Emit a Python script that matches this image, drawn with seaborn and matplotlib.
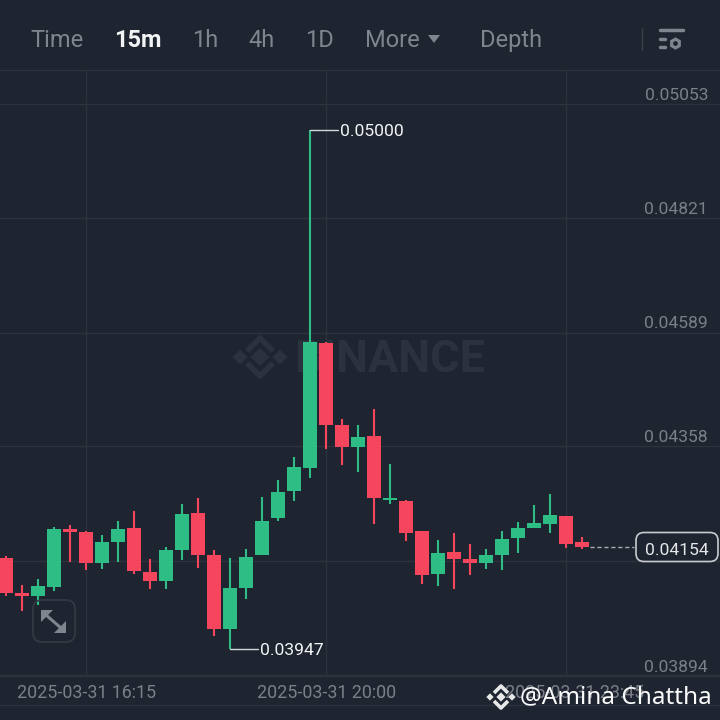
import matplotlib
matplotlib.use("Agg")
import matplotlib.pyplot as plt
from matplotlib.patches import FancyBboxPatch, Polygon
import numpy as np
import pandas as pd
import seaborn as sns

# OHLC-style values (price units)
highs = [.04135,.04077,.04089,.04194,.04198,.04186,.04178,.04206,.04227,.04129,.04154,.04241,.04254,
         .04148,.04131,.04149,.04255,.04290,.04337,.05000,.04570,.04414,.04401,.04433,.04322,.04249,
         .04186,.04169,.04182,.04160,.04149,.04186,.04204,.04239,.04262,.04217,.04174]
body_tops = [.04131,.04061,.04074,.04190,.04191,.04185,.04164,.04190,.04192,.04104,.04148,.04221,.04222,
             .04137,.04070,.04133,.04206,.04265,.04317,.04570,.04568,.04401,.04377,.04379,.04254,.04248,
             .04186,.04141,.04144,.04130,.04137,.04170,.04192,.04202,.04218,.04217,.04163]
body_bottoms = [.04060,.04054,.04054,.04073,.04184,.04121,.04122,.04164,.04106,.04085,.04085,.04147,.04137,
                .03987,.03987,.04071,.04138,.04213,.04268,.04315,.04401,.04357,.04357,.04253,.04249,.04182,
                .04097,.04099,.04129,.04122,.04122,.04138,.04172,.04192,.04200,.04159,.04154]
lows = [.04055,.04024,.04036,.04065,.04123,.04107,.04110,.04123,.04099,.04068,.04069,.04127,.04111,
        .03974,.03947,.04049,.04138,.04206,.04248,.04294,.04353,.04321,.04306,.04201,.04241,.04165,
        .04079,.04075,.04068,.04097,.04110,.04107,.04142,.04192,.04182,.04152,.04150]
directions = list("RRGGRRGGRRGGRRGGGGGGRRGRGRRGRRGGGGGRR")

price_ticks = [.05053,.04821,.04589,.04358,.04126,.03894]
price_labels = ["0.05053","0.04821","0.04589","0.04358","","0.03894"]
time_positions = [5,20,35]
time_labels = ["2025-03-31 16:15","2025-03-31 20:00","2025-03-31 23:45"]
menu_items = [("Time",30,"#7f858e",False),("15m",114,"#f2f3f4",True),("1h",192,"#7f858e",False),
              ("4h",248,"#7f858e",False),("1D",305,"#7f858e",False),("More",365,"#7f858e",False),
              ("Depth",480,"#7f858e",False)]

BG, GRID, UP, DOWN = "#1e2530", "#2d323c", "#2ebd85", "#f6465d"
palette = {"G": UP, "R": DOWN}

sns.set_theme(style="dark", rc={"axes.facecolor": BG, "figure.facecolor": BG, "axes.grid": False})
plt.rcParams["font.family"] = ["Roboto", "DejaVu Sans"]

fig = plt.figure(figsize=(7.2, 7.2), dpi=100, facecolor=BG)

# watermark layer, underneath the candles
under = fig.add_axes([0, 0, 1, 1], facecolor="none", zorder=0)
under.set_xlim(0, 720); under.set_ylim(720, 0); under.axis("off")
wm = "#2c323d"
under.scatter([260, 240, 280], [357, 357, 357], s=[90, 60, 60], marker="D", color=wm, lw=0)
under.plot([247, 260, 273], [351, 338, 351], color=wm, lw=4, solid_capstyle="butt")
under.plot([247, 260, 273], [363, 376, 363], color=wm, lw=4, solid_capstyle="butt")
under.text(294, 360.5, "BINANCE", color=wm, fontsize=32.5, fontweight="bold", va="center", fontfamily="Roboto")

ax = fig.add_axes([0, (720-676)/720, 1, (676-70)/720], zorder=1)
ax.patch.set_visible(False)

idx = np.arange(len(highs))
bodies = pd.DataFrame({"i": idx, "h": np.array(body_tops)-np.array(body_bottoms),
                       "b": body_bottoms, "d": directions})
wicks = pd.DataFrame({"i": np.r_[idx, idx], "p": highs+lows, "d": directions*2})

for v in time_positions:
    ax.axvline(v, color=GRID, lw=1, zorder=0)
for t in price_ticks:
    ax.axhline(t, color=GRID, lw=1, zorder=0)

sns.lineplot(data=wicks, x="i", y="p", hue="d", units="i", estimator=None, palette=palette,
             lw=1.5, legend=False, ax=ax, zorder=3, solid_capstyle="butt")
for d, g in bodies.groupby("d"):
    ax.bar(g["i"], g["h"], bottom=g["b"], width=0.88, color=palette[d], lw=0, zorder=4)

ax.set_xlim(-5.7/16, (720-5.7)/16)
ax.set_ylim(.03892, .05122)
ax.set_xticks([]); ax.set_yticks([])
ax.set_xlabel(""); ax.set_ylabel("")
for s in ax.spines.values():
    s.set_visible(False)

# chrome overlay in pixel space
ov = fig.add_axes([0, 0, 1, 1], facecolor="none", zorder=10)
ov.set_xlim(0, 720); ov.set_ylim(720, 0); ov.axis("off")

ov.plot([0, 720], [70, 70], color=GRID, lw=1)
ov.plot([0, 720], [676, 676], color=GRID, lw=1)
ov.plot([0, 720], [705, 705], color=GRID, lw=1)

for txt, x, c, b in menu_items:
    ov.text(x, 47, txt, color=c, fontsize=17, va="baseline", ha="left",
            fontweight="bold" if b else "normal", fontfamily="Roboto")
ov.add_patch(Polygon([(428, 35), (440, 35), (434, 43)], color="#7f858e", lw=0))
ov.plot([642, 642], [28, 50], color="#3a3f49", lw=1)
ov.plot([660, 683], [30, 30], color="#7f858e", lw=2.5)
ov.plot([660, 665], [39, 39], color="#7f858e", lw=2.5)
ov.plot([660, 665], [47, 47], color="#7f858e", lw=2.5)
ov.scatter([675], [43], s=80, marker="h", color="#7f858e", lw=0)
ov.scatter([675], [43], s=12, marker="o", color=BG, lw=0)

for t, lab, y in zip(price_ticks, price_labels, [95, 210, 324, 438, 0, 667]):
    if lab:
        ov.text(708, y, lab, color="#7b7f88", fontsize=12.6, ha="right", va="center")
for lab, x in zip(time_labels, [86.5, 326.5, 575]):
    ov.text(x, 692.5, lab, color="#7b7f88", fontsize=12.9, ha="center", va="center", zorder=1)

# high / low callouts
ov.plot([310, 338], [130, 130], color="#d5d7da", lw=1)
ov.text(340, 131.5, "0.05000", color="#f2f3f4", fontsize=12.6, va="center")
ov.plot([230, 258], [649, 649], color="#d5d7da", lw=1)
ov.text(260, 650.5, "0.03947", color="#f2f3f4", fontsize=12.6, va="center")

# last price
ov.plot([590, 634], [547, 547], color="#a8abb0", lw=1, ls=(0, (3, 2)))
ov.add_patch(FancyBboxPatch((636, 532.5), 82, 29, boxstyle="round,pad=0,rounding_size=8",
                            fc=BG, ec="#c9cbcf", lw=1.2))
ov.text(677, 550.5, "0.04154", color="#e6e7e9", fontsize=12.6, ha="center", va="center")

# expand button
ov.add_patch(FancyBboxPatch((33, 600), 42, 42, boxstyle="round,pad=0,rounding_size=9",
                            fc="none", ec="#353a45", lw=1.2))
ov.add_patch(Polygon([(41, 610), (53, 610), (41, 622)], color="#7f858e", lw=0))
ov.add_patch(Polygon([(66, 633), (54, 633), (66, 621)], color="#7f858e", lw=0))
ov.plot([46, 61], [615, 628], color="#7f858e", lw=2.2, solid_capstyle="butt")

# credit
ov.scatter([501, 490, 512], [697, 697, 697], s=[22, 14, 14], marker="D", color="#e8e8e8", lw=0, zorder=12)
ov.plot([494, 501, 508], [693, 686, 693], color="#e8e8e8", lw=2.6, zorder=12, solid_capstyle="butt")
ov.plot([494, 501, 508], [701, 708, 701], color="#e8e8e8", lw=2.6, zorder=12, solid_capstyle="butt")
ov.text(520, 697, "@Amina Chattha", color="#fafafa", fontsize=17.5, va="center", zorder=12, fontfamily="Noto Sans")

fig.savefig("out.png", dpi=100, facecolor=BG)
